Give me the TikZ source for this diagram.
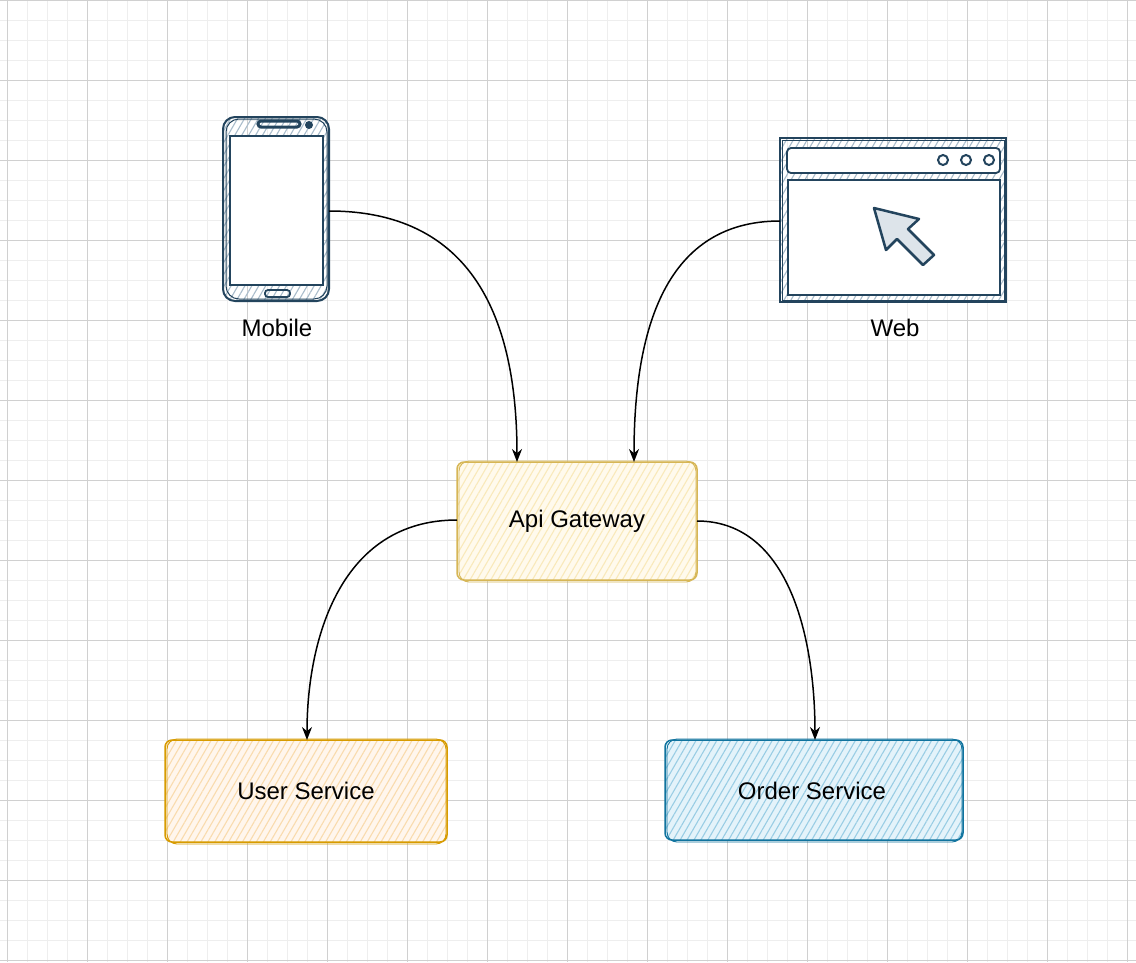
\documentclass[tikz,border=0pt]{standalone}
\usepackage{fontspec}
\setmainfont{Liberation Sans}
\usetikzlibrary{patterns.meta,arrows.meta}
\definecolor{dev}{HTML}{23445D}
\definecolor{devh}{HTML}{A9BCCB}
\definecolor{gwf}{HTML}{FFF2CC}\definecolor{gws}{HTML}{D6B656}
\definecolor{usf}{HTML}{FFE6CC}\definecolor{uss}{HTML}{D79B00}
\definecolor{osf}{HTML}{B1DDF0}\definecolor{oss}{HTML}{10739E}
\definecolor{gmin}{HTML}{EEEEEE}\definecolor{gmaj}{HTML}{D0D0D0}
\begin{document}
\begin{tikzpicture}[x=1pt,y=-1pt,
  hatch/.style={pattern={Lines[angle=60,distance=6pt,line width=1.1pt]},pattern color=#1},
  lbl/.style={font=\fontsize{24}{28}\selectfont,text=black},
  conn/.style={-{Stealth[length=13pt,width=10pt]},line width=1.5pt,black}]
\useasboundingbox (0,0) rectangle (1136,962);
\fill[white] (0,0) rectangle (1136,962);
\foreach \x in {7,27,...,1136} \draw[gmin,line width=0.8pt] (\x,0) -- (\x,962);
\foreach \y in {0,20,...,962} \draw[gmin,line width=0.8pt] (0,\y) -- (1136,\y);
\foreach \x in {7,87,...,1136} \draw[gmaj,line width=0.8pt] (\x,0) -- (\x,962);
\foreach \y in {0,80,...,962} \draw[gmaj,line width=0.8pt] (0,\y) -- (1136,\y);

% services
\foreach \n/\a/\b/\c/\d/\f/\s in {gw/457/462/697/580/gwf/gws,us/165/740/447/842/usf/uss,os/665/740/963/840/osf/oss}{
  \fill[\f!35,rounded corners=7pt] (\a,\b) rectangle (\c,\d);
  \fill[hatch=\f!85!\s,rounded corners=7pt] (\a,\b) rectangle (\c,\d);
  \draw[\s,line width=1.5pt,rounded corners=7pt] (\a,\b) rectangle (\c,\d);
  \draw[\s,line width=0.9pt,rounded corners=10pt] (\a+2,\b-1) rectangle (\c-1,\d+2);
}
\node[lbl] (gw) at (577,521) {Api Gateway};
\node[lbl] (us) at (306,791) {User Service};
\node[lbl] (os) at (812,791) {Order Service};
\coordinate (gwT1) at (517,462); \coordinate (gwT2) at (634,462);
\coordinate (gwL) at (457,520); \coordinate (gwR) at (697,521);
\coordinate (usT) at (307,740); \coordinate (osT) at (815,740);

% phone
\fill[hatch=devh,rounded corners=12pt] (223,117) rectangle (329,301);
\fill[white] (230,136) rectangle (323,285);
\draw[dev,line width=2pt,rounded corners=12pt] (223,117) rectangle (329,301);
\draw[dev,line width=1pt,rounded corners=13pt] (226,119) rectangle (327,299);
\draw[dev,line width=1.8pt] (230,136) rectangle (323,285);
\draw[dev,line width=3pt,rounded corners=3pt] (258,121) rectangle (300,127);
\fill[dev] (309,125) circle (4pt);
\draw[dev,line width=1.8pt,rounded corners=3pt] (265,290) rectangle (290,297);
\node[lbl] (mob) at (277,328) {Mobile};
\coordinate (mobR) at (329,211);

% web
\fill[hatch=devh] (780,138) rectangle (1006,302);
\fill[white] (788,180) rectangle (1000,295);
\fill[white,rounded corners=4pt] (787,148) rectangle (1000,173);
\draw[dev,line width=2pt] (780,138) rectangle (1006,302);
\draw[dev,line width=1pt] (782,140) rectangle (1004,300);
\draw[dev,line width=1.8pt,rounded corners=4pt] (787,148) rectangle (1000,173);
\draw[dev,line width=1.8pt] (788,180) rectangle (1000,295);
\foreach \cx in {943,966,989} \draw[dev,line width=2pt] (\cx,160) circle (5pt);
\draw[dev,line width=2.5pt,line join=round,fill=devh!40] (874,208) -- (886,250) -- (897,239) -- (923,265) -- (934,255) -- (908,229) -- (919,219) -- cycle;
\node[lbl] (web) at (895,328) {Web};
\coordinate (webL) at (780,221);

% connectors
\draw[conn] (mobR) .. controls (480,211) and (517,330) .. (gwT1);
\draw[conn] (webL) .. controls (660,221) and (634,340) .. (gwT2);
\draw[conn] (gwL) .. controls (340,520) and (307,640) .. (usT);
\draw[conn] (gwR) .. controls (790,521) and (815,640) .. (osT);
\end{tikzpicture}
\end{document}
